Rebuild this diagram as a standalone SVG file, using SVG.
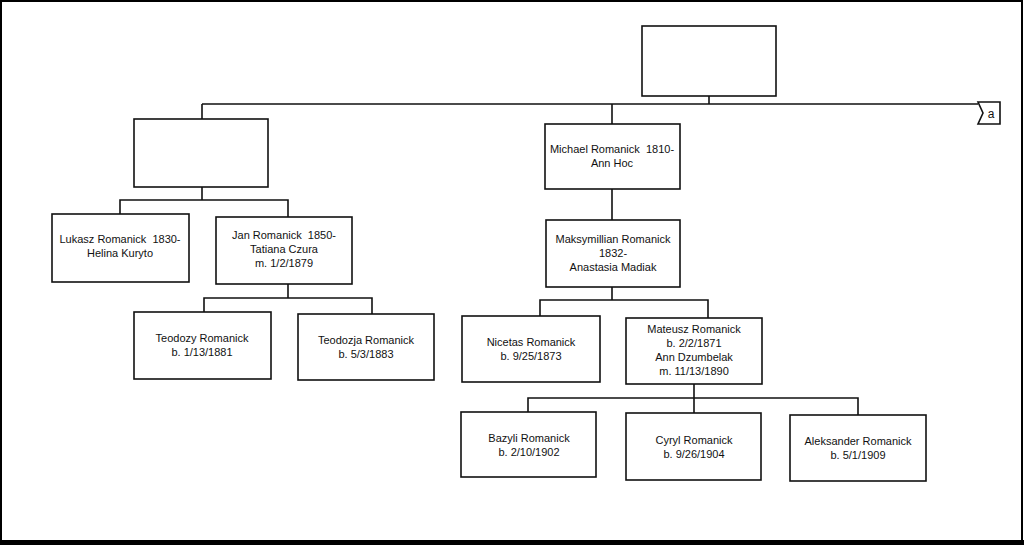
<svg xmlns="http://www.w3.org/2000/svg" width="1024" height="545" viewBox="0 0 1024 545">
<style>
rect.n{fill:#fff;stroke:#111;stroke-width:1.6}
text{font-family:"Liberation Sans",Arial,sans-serif;font-size:11px;fill:#111;text-anchor:middle;white-space:pre}
#connectors path{fill:none;stroke:#111;stroke-width:1.6}
</style>
<rect x="0" y="0" width="1024" height="545" fill="#fff"/>
<rect x="1" y="1" width="1021" height="541" fill="none" stroke="#000" stroke-width="2"/>
<rect x="0" y="540" width="1024" height="5" fill="#000"/>
<g id="connectors">
<path d="M709 96V104M202 104H978M202 104V119"/>
<path d="M612 104V124M612 189V220"/>
<path d="M202 187V200M120 214V200H288V217"/>
<path d="M288 284V298M204 312V298H372V314"/>
<path d="M612 287V300M540 316V300H708V318"/>
<path d="M694 384V398M528 412V398H858V415M694 398V413"/>
</g>
<g id="tag-a"><path d="M978 102H1000V124H978L983 113Z" fill="#fff" stroke="#111" stroke-width="1.6"/><text x="991" y="118" style="font-size:12px">a</text></g>
<g id="top"><rect class="n" x="642" y="26" width="134" height="70"/></g>
<g id="left-parent"><rect class="n" x="134" y="119" width="134" height="68"/></g>
<g id="michael"><rect class="n" x="545" y="124" width="135" height="65"/><text x="612" y="153" xml:space="preserve">Michael Romanick  1810-</text><text x="612" y="167">Ann Hoc</text></g>
<g id="lukasz"><rect class="n" x="52" y="214" width="137" height="68"/><text x="120" y="243" xml:space="preserve">Lukasz Romanick  1830-</text><text x="120" y="257">Helina Kuryto</text></g>
<g id="jan"><rect class="n" x="216" y="217" width="136" height="67"/><text x="284" y="239" xml:space="preserve">Jan Romanick  1850-</text><text x="284" y="253">Tatiana Czura</text><text x="284" y="267">m. 1/2/1879</text></g>
<g id="maksymillian"><rect class="n" x="546" y="220" width="134" height="67"/><text x="613" y="243">Maksymillian Romanick</text><text x="613" y="257">1832-</text><text x="613" y="271">Anastasia Madiak</text></g>
<g id="teodozy"><rect class="n" x="134" y="312" width="137" height="67"/><text x="202" y="342">Teodozy Romanick</text><text x="202" y="356">b. 1/13/1881</text></g>
<g id="teodozja"><rect class="n" x="298" y="314" width="136" height="66"/><text x="366" y="344">Teodozja Romanick</text><text x="366" y="358">b. 5/3/1883</text></g>
<g id="nicetas"><rect class="n" x="462" y="316" width="138" height="66"/><text x="531" y="346">Nicetas Romanick</text><text x="531" y="360">b. 9/25/1873</text></g>
<g id="mateusz"><rect class="n" x="626" y="318" width="136" height="66"/><text x="694" y="333">Mateusz Romanick</text><text x="694" y="347">b. 2/2/1871</text><text x="694" y="361">Ann Dzumbelak</text><text x="694" y="375">m. 11/13/1890</text></g>
<g id="bazyli"><rect class="n" x="461" y="412" width="135" height="65"/><text x="529" y="442">Bazyli Romanick</text><text x="529" y="456">b. 2/10/1902</text></g>
<g id="cyryl"><rect class="n" x="626" y="413" width="135" height="67"/><text x="694" y="444">Cyryl Romanick</text><text x="694" y="458">b. 9/26/1904</text></g>
<g id="aleksander"><rect class="n" x="790" y="415" width="136" height="66"/><text x="858" y="445">Aleksander Romanick</text><text x="858" y="459">b. 5/1/1909</text></g>
</svg>
